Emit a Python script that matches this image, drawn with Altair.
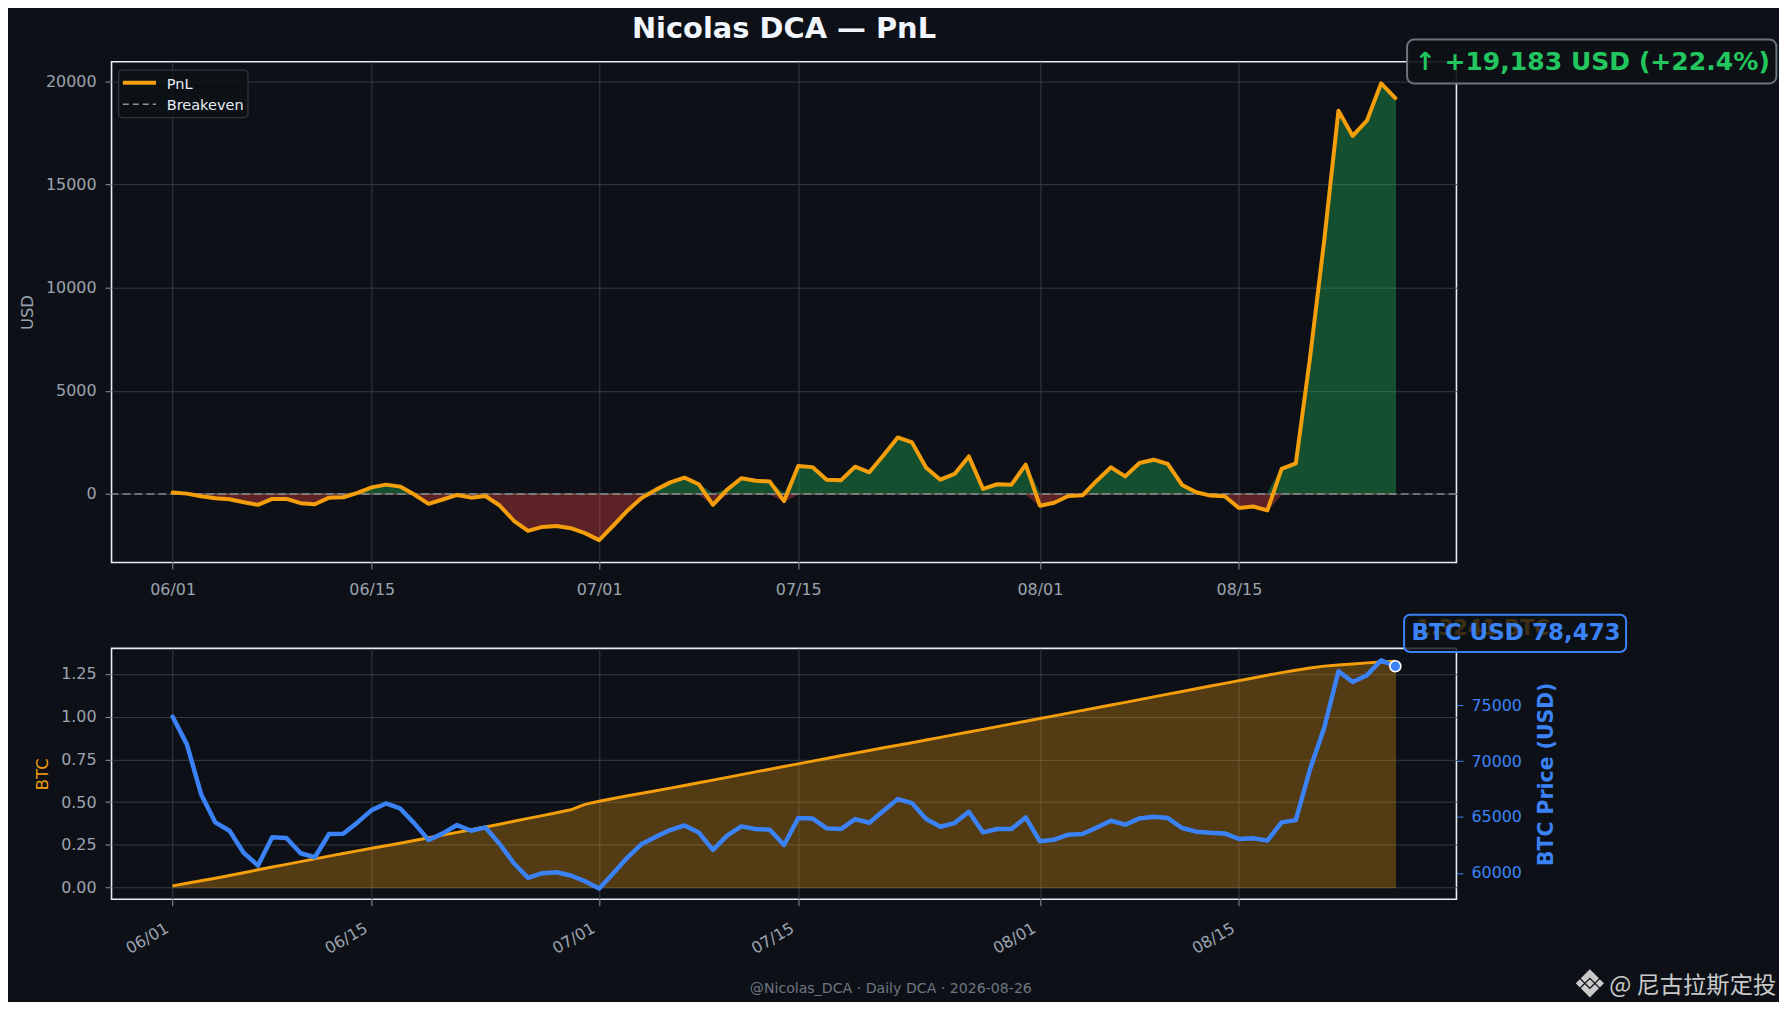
import altair as alt
import pandas as pd

# ---------------- data ----------------
start_date = "2026-06-01"
pnl_usd = [65, 15, -110, -210, -260, -400, -530, -240, -240, -450,
           -500, -180, -160, 50, 320, 450, 355, -30, -480, -270,
           -50, -180, -100, -560, -1300, -1790, -1600, -1550, -1660, -1900,
           -2240, -1530, -800, -190, 210, 560, 790, 470, -530, 210,
           760, 640, 600, -350, 1350, 1300, 690, 660, 1320, 1050,
           1880, 2740, 2500, 1270, 690, 970, 1820, 240, 470, 450,
           1420, -570, -430, -100, -70, 640, 1290, 850, 1500, 1660,
           1450, 435, 80, -80, -110, -680, -610, -800, 1210, 1480,
           6600, 12300, 18575, 17350, 18090, 19900, 19183]
btc_price = [73960, 71490, 67040, 64515, 63770, 61783, 60655, 63180, 63120, 61754,
             61396, 63475, 63505, 64515, 65613, 66206, 65760, 64425, 62940, 63535,
             64277, 63770, 64065, 62585, 60860, 59556, 59973, 60060, 59764, 59260,
             58610, 59973, 61396, 62585, 63240, 63830, 64245, 63620, 62050, 63327,
             64155, 63920, 63860, 62494, 64900, 64870, 63980, 63920, 64810, 64485,
             65553, 66595, 66237, 64810, 64125, 64455, 65466, 63620, 63920, 63920,
             64960, 62822, 62970, 63416, 63475, 64065, 64660, 64307, 64870, 65020,
             64900, 64010, 63683, 63590, 63530, 63030, 63090, 62882, 64515, 64720,
             69264, 72976, 78023, 77070, 77665, 79003, 78473]
btc_held = [0.010, 0.025, 0.040, 0.055, 0.071, 0.087, 0.104, 0.120, 0.136, 0.152,
            0.168, 0.184, 0.200, 0.215, 0.230, 0.245, 0.260, 0.276, 0.292, 0.308,
            0.323, 0.339, 0.355, 0.371, 0.388, 0.405, 0.421, 0.438, 0.455, 0.487,
            0.505, 0.521, 0.537, 0.552, 0.567, 0.582, 0.597, 0.613, 0.629, 0.645,
            0.661, 0.677, 0.693, 0.709, 0.724, 0.740, 0.755, 0.771, 0.787, 0.802,
            0.818, 0.833, 0.848, 0.864, 0.879, 0.895, 0.910, 0.926, 0.942, 0.958,
            0.973, 0.989, 1.005, 1.021, 1.037, 1.052, 1.068, 1.084, 1.100, 1.116,
            1.132, 1.148, 1.164, 1.180, 1.195, 1.211, 1.227, 1.243, 1.258, 1.272,
            1.285, 1.296, 1.303, 1.309, 1.315, 1.320, 1.324]

x_tick_days = [(2026, 6, 1), (2026, 6, 15), (2026, 7, 1), (2026, 7, 15), (2026, 8, 1), (2026, 8, 15)]
usd_ticks = [0, 5000, 10000, 15000, 20000]
btc_ticks = [0, 0.25, 0.5, 0.75, 1.0, 1.25]
price_ticks = [60000, 65000, 70000, 75000]

title_text = "Nicolas DCA — PnL"
pnl_badge_text = "↑ +19,183 USD (+22.4%)"
price_badge_text = "BTC USD 78,473"
held_badge_text = "1.3241 BTC"
footer_text = "@Nicolas_DCA · Daily DCA · 2026-08-26"
watermark_text = "@ 尼古拉斯定投"
legend_labels = ["PnL", "Breakeven"]

# ---------------- styling ----------------
BG = "#0d1117"
ORANGE = "#f59e0b"
GREEN = "#22c55e"
RED = "#ef4444"
BLUE = "#3b82f6"
GRID = "#353b45"
FRAME = "#e6edf3"
TICKLAB = "#9ca3af"
FONT = "DejaVu Sans"

W, H1, H2, GAP = 1351, 503, 252, 86.3
DX = 1.0  # small shift for the decorations to the right of the plots

dates = pd.date_range(start_date, periods=len(pnl_usd), freq="D").strftime("%Y-%m-%dT00:00:00")
df = pd.DataFrame({"date": dates, "pnl": pnl_usd, "price": btc_price, "btc": btc_held})
last = df.tail(1)
one = pd.DataFrame({"k": [0]})

x_scale = alt.Scale(domain=[alt.DateTime(year=2026, month=5, date=27, hours=16, minutes=48),
                            alt.DateTime(year=2026, month=8, date=30, hours=7, minutes=12)])
x_vals = [alt.DateTime(year=y, month=m, date=d) for (y, m, d) in x_tick_days]


def x_enc(rotated):
    if rotated:
        ax = alt.Axis(values=x_vals, format="%m/%d", title=None, grid=True, labelAngle=330,
                      labelAlign="right", labelBaseline="top", labelPadding=14, labelOffset=-10)
    else:
        ax = alt.Axis(values=x_vals, format="%m/%d", title=None, grid=True, labelAngle=0,
                      labelAlign="center", labelBaseline="top", labelPadding=12.3)
    return alt.X("date:T", scale=x_scale, axis=ax)


# ---------------- top panel: PnL ----------------
y_top_scale = alt.Scale(domain=[-3320, 20950], nice=False, zero=False)
y_top_axis = alt.Axis(values=usd_ticks, format="d", title="USD", grid=True, labelPadding=9, titlePadding=10)


def y_top(field):
    return alt.Y(field, scale=y_top_scale, axis=y_top_axis)


base = alt.Chart(df)
pos_area = base.transform_calculate(pos="max(datum.pnl, 0)").mark_area(
    color=GREEN, opacity=0.35, stroke=GREEN, strokeWidth=1.2).encode(
    x=x_enc(False), y=y_top("pos:Q"), y2=alt.datum(0))
neg_area = base.transform_calculate(neg="min(datum.pnl, 0)").mark_area(
    color=RED, opacity=0.35, stroke=RED, strokeWidth=1.2).encode(
    x=x_enc(False), y=y_top("neg:Q"), y2=alt.datum(0))
zero_rule = alt.Chart(pd.DataFrame({"v": [0]})).mark_rule(
    color="#8b949e", strokeDash=[8, 4], strokeWidth=1.6, opacity=0.9).encode(y=y_top("v:Q"))
pnl_line = base.mark_line(color=ORANGE, strokeWidth=4, strokeJoin="round", strokeCap="round").encode(
    x=x_enc(False), y=y_top("pnl:Q"))

leg_box = alt.Chart(one).mark_rect(fill=BG, fillOpacity=0.8, stroke="#30363d", strokeWidth=1.3,
                                   cornerRadius=4).encode(
    x=alt.value(7.1), x2=alt.value(137.1), y=alt.value(8.5), y2=alt.value(56.2))
leg_pnl = alt.Chart(one).mark_rule(color=ORANGE, strokeWidth=4).encode(
    x=alt.value(11.4), x2=alt.value(44.7), y=alt.value(21.2))
leg_be = alt.Chart(one).mark_rule(color="#8b949e", strokeWidth=1.6, strokeDash=[6, 4]).encode(
    x=alt.value(11.4), x2=alt.value(44.7), y=alt.value(42.8))
leg_t1 = alt.Chart(one).mark_text(text=legend_labels[0], font=FONT, fontSize=14.6, color="#e6edf3",
                                  align="left", baseline="alphabetic").encode(
    x=alt.value(55.4), y=alt.value(27.8))
leg_t2 = alt.Chart(one).mark_text(text=legend_labels[1], font=FONT, fontSize=14.6, color="#e6edf3",
                                  align="left", baseline="alphabetic").encode(
    x=alt.value(55.4), y=alt.value(48.8))

title_mark = alt.Chart(one).mark_text(text=title_text, font=FONT, fontSize=29, fontWeight="bold",
                                      color="#f0f6fc", align="center", baseline="alphabetic").encode(
    x=alt.value(W / 2), y=alt.value(-23.4))
badge_box = alt.Chart(one).mark_rect(fill=BG, fillOpacity=0.92, stroke="#6b7280", strokeWidth=2,
                                     cornerRadius=7).encode(
    x=alt.value(1300.4 + DX), x2=alt.value(1671.4 + DX), y=alt.value(-22.2), y2=alt.value(21.8))
badge_txt = alt.Chart(one).mark_text(text=pnl_badge_text, font=FONT, fontSize=25.2, fontWeight="bold",
                                     color=GREEN, align="center", baseline="alphabetic").encode(
    x=alt.value(1486.4 + DX), y=alt.value(8.2))

top = alt.layer(pos_area, neg_area, zero_rule, pnl_line, leg_box, leg_pnl, leg_be, leg_t1, leg_t2,
                title_mark, badge_box, badge_txt).properties(width=W, height=H1)

# ---------------- bottom panel: holdings + price ----------------
y_btc = alt.Y("btc:Q", scale=alt.Scale(domain=[-0.068, 1.40], nice=False, zero=False),
              axis=alt.Axis(values=btc_ticks, format=".2f", title="BTC", titleColor=ORANGE, grid=True,
                            labelPadding=9, titlePadding=10))
y_price = alt.Y("price:Q", scale=alt.Scale(domain=[57647, 80074], nice=False, zero=False),
                axis=alt.Axis(values=price_ticks, format="d", orient="right", grid=False,
                              title="BTC Price (USD)", titleColor=BLUE, titleFontWeight="bold",
                              titleFontSize=20.5, titleAngle=270, labelColor=BLUE, tickColor=BLUE,
                              labelPadding=8, titlePadding=35))

held_area = alt.Chart(df).mark_area(color=ORANGE, opacity=0.3, stroke=ORANGE, strokeWidth=1.2).encode(
    x=x_enc(True), y=y_btc, y2=alt.datum(0))
held_line = alt.Chart(df).mark_line(color=ORANGE, strokeWidth=3, strokeJoin="round").encode(
    x=x_enc(True), y=y_btc)
left_layer = alt.layer(held_area, held_line)

price_line = alt.Chart(df).mark_line(color=BLUE, strokeWidth=4.5, strokeJoin="round", strokeCap="round").encode(
    x=x_enc(True), y=y_price)
price_dot = alt.Chart(last).mark_circle(color=BLUE, size=120, opacity=1, stroke="white",
                                        strokeWidth=1.6).encode(x=x_enc(True), y=y_price)
right_layer = alt.layer(price_line, price_dot)

held_txt = alt.Chart(one).mark_text(text=held_badge_text, font=FONT, fontSize=21, fontWeight="bold",
                                    color=ORANGE, align="center", baseline="alphabetic").encode(
    x=alt.value(1376.6 + DX), y=alt.value(-13.7))
pbox = alt.Chart(one).mark_rect(fill=BG, fillOpacity=0.8, stroke=BLUE, strokeWidth=2, cornerRadius=6).encode(
    x=alt.value(1297.4 + DX), x2=alt.value(1520.4 + DX), y=alt.value(-33.7), y2=alt.value(3.6))
ptxt = alt.Chart(one).mark_text(text=price_badge_text, font=FONT, fontSize=23.1, fontWeight="bold",
                                color=BLUE, align="center", baseline="alphabetic").encode(
    x=alt.value(1409.9 + DX), y=alt.value(-8.0))

footer = alt.Chart(one).mark_text(text=footer_text, font=FONT, fontSize=14.2, color="#6e7681",
                                  align="center", baseline="alphabetic").encode(
    x=alt.value(782.8), y=alt.value(346.0))
logo_path = ("M0,-1L0.6455,-0.3545L0.3545,-0.0635L0,-0.418L-0.3545,-0.0635L-0.6455,-0.3545Z"
             "M0,1L0.6455,0.3545L0.3545,0.0635L0,0.418L-0.3545,0.0635L-0.6455,0.3545Z"
             "M0,-0.291L0.291,0L0,0.291L-0.291,0Z"
             "M1,0L0.709,-0.291L0.418,0L0.709,0.291Z"
             "M-1,0L-0.709,-0.291L-0.418,0L-0.709,0.291Z")
logo = alt.Chart(one).mark_point(shape=logo_path, filled=True, size=800, color="#c9c9c9", opacity=1,
                                 strokeWidth=0).encode(x=alt.value(1484.0 + DX), y=alt.value(336.5))
wm = alt.Chart(one).mark_text(text=watermark_text, font="Noto Sans CJK SC", fontSize=23.4, color="#c9c9c9",
                              align="left", baseline="alphabetic").encode(
    x=alt.value(1503.5 + DX), y=alt.value(346.7))

bottom = alt.layer(left_layer, right_layer, held_txt, pbox, ptxt, footer, logo, wm).resolve_scale(
    y="independent").properties(width=W, height=H2)

chart = alt.vconcat(top, bottom, spacing=GAP, bounds="flush").properties(
    background=BG, padding={"left": 10, "top": 3.7, "right": 0, "bottom": 0}
).configure_view(stroke=FRAME, strokeWidth=1.6).configure_axis(
    labelFont=FONT, labelFontSize=16, labelColor=TICKLAB, tickColor="#8b949e", tickSize=6.5,
    tickWidth=1, domain=False, gridColor=GRID, gridWidth=1, titleFont=FONT, titleFontSize=16.5,
    titleFontWeight="normal", titleColor=TICKLAB
)

chart.save("out.html", embed_options={"renderer": "svg", "actions": False})
